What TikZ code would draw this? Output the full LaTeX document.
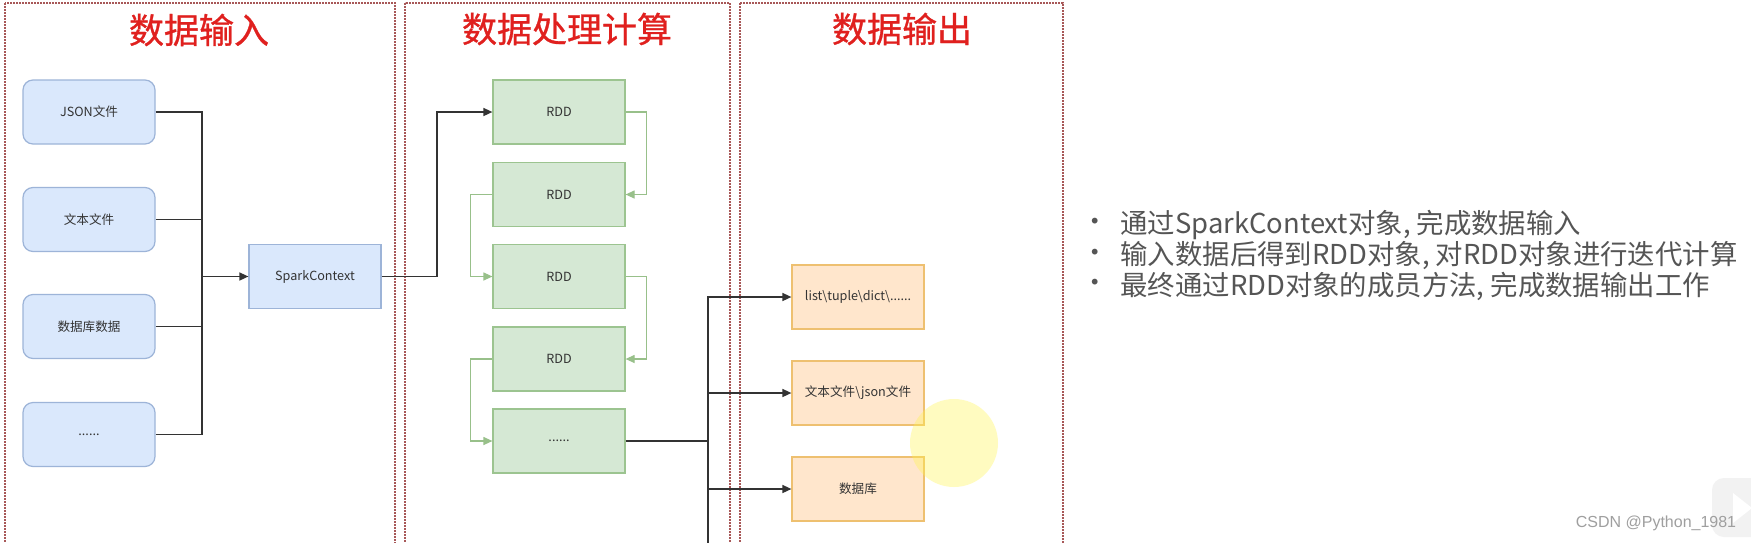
\documentclass[tikz,border=0pt]{standalone}
\usepackage{fontspec}
\setmainfont{Noto Sans CJK SC}
\newfontfamily\wmfont{Liberation Sans}
\newfontfamily\titlefont[FakeBold=0.9]{Noto Sans CJK SC}
\usetikzlibrary{arrows.meta,calc}
\definecolor{inFill}{HTML}{DAE8FC}
\definecolor{inDraw}{HTML}{9DB4D8}
\definecolor{rddFill}{HTML}{D5E8D4}
\definecolor{rddDraw}{HTML}{9CC490}
\definecolor{outFill}{HTML}{FFE6CC}
\definecolor{outDraw}{HTML}{EEC070}
\definecolor{panelCol}{HTML}{A85858}
\definecolor{titleRed}{HTML}{E0201E}
\definecolor{lineCol}{HTML}{333333}
\definecolor{greenLine}{HTML}{98C08A}
\definecolor{txtCol}{HTML}{333333}
\definecolor{bulletCol}{HTML}{555555}
\tikzset{
  panel/.style={draw=panelCol, line width=0.7pt, dash pattern=on 0.9pt off 0.6pt},
  boxbase/.style={minimum width=66pt, minimum height=32pt, inner sep=0pt, text=txtCol,
    font=\fontsize{6.3}{7}\selectfont, line width=0.6pt},
  inbox/.style={boxbase, fill=inFill, draw=inDraw, rounded corners=5pt},
  scbox/.style={boxbase, fill=inFill, draw=inDraw},
  rddbox/.style={boxbase, fill=rddFill, draw=rddDraw},
  outbox/.style={boxbase, fill=outFill, draw=outDraw},
  titletext/.style={text=titleRed, font=\titlefont\fontsize{17.5}{20}\selectfont, inner sep=0pt},
  bullettext/.style={text=bulletCol, font=\fontsize{13.7}{15}\selectfont, inner sep=0pt, anchor=west},
  conn/.style={draw=lineCol, line width=0.75pt},
  connarrow/.style={conn, -{Triangle[length=4.5pt,width=4pt]}},
  gconn/.style={draw=greenLine, line width=0.6pt, -{Triangle[length=4.5pt,width=4pt]}},
}
\begin{document}
\begin{tikzpicture}[x=0.5pt,y=-0.5pt]
\useasboundingbox (0,0) rectangle (1751,542);
\clip (0,0) rectangle (1751,542);
\fill[white] (0,0) rectangle (1751,542);

% panels
\draw[panel] (5,3) rectangle (395,620);
\draw[panel] (405,3) rectangle (730,620);
\draw[panel] (740,3) rectangle (1063,620);

% titles
\node[titletext] (t1) at (199,30) {数据输入};
\node[titletext] (t2) at (567,29) {数据处理计算};
\node[titletext] (t3) at (902,29) {数据输出};

% input boxes
\node[inbox] (in1) at (89,112) {JSON文件};
\node[inbox] (in2) at (89,219.5) {文本文件};
\node[inbox] (in3) at (89,326.5) {数据库数据};
\node[inbox] (in4) at (89,434.5) {......};

\node[scbox] (sc) at (315,276.5) {SparkContext};

% RDD boxes
\node[rddbox] (r1) at (559,112) {RDD};
\node[rddbox] (r2) at (559,194.5) {RDD};
\node[rddbox] (r3) at (559,276.5) {RDD};
\node[rddbox] (r4) at (559,359) {RDD};
\node[rddbox] (r5) at (559,441) {......};

% output boxes
\node[outbox] (o1) at (858,297) {list\textbackslash tuple\textbackslash dict\textbackslash ......};
\node[outbox] (o2) at (858,393) {文本文件\textbackslash json文件};
\node[outbox] (o3) at (858,489) {数据库};

% input bus
\coordinate (bin) at (202,276.5);
\draw[conn] (in1.east) -| (bin);
\draw[conn] (in2.east) -| (bin);
\draw[conn] (in3.east) -| (bin);
\draw[conn] (in4.east) -| (bin);
\draw[connarrow] (bin) -- (sc.west);

% spark -> rdd1
\coordinate (sj) at (437,276.5);
\draw[connarrow] (sc.east) -- (sj) |- (r1.west);

% rdd chain
\draw[gconn] (r1.east) -- ++(21,0) |- (r2.east);
\draw[gconn] (r2.west) -- ++(-22,0) |- (r3.west);
\draw[gconn] (r3.east) -- ++(21,0) |- (r4.east);
\draw[gconn] (r4.west) -- ++(-22,0) |- (r5.west);

% output bus
\coordinate (bout) at (708,441);
\coordinate (boutend) at (708,560);
\draw[conn] (r5.east) -- (bout);
\draw[connarrow] (bout) |- (o1.west);
\draw[connarrow] (bout) |- (o2.west);
\draw[connarrow] (bout) |- (o3.west);
\draw[conn] (bout) -- (boutend);

% cursor highlight
\fill[yellow!70!white, opacity=0.35] (954,443) circle (44);

% bullet text
\node[bullettext, anchor=center] (b1) at (1095,225) {•};
\node[bullettext] (l1) at (1120,225) {通过SparkContext对象, 完成数据输入};
\node[bullettext, anchor=center] (b2) at (1095,255.5) {•};
\node[bullettext] (l2) at (1120,255.5) {输入数据后得到RDD对象, 对RDD对象进行迭代计算};
\node[bullettext, anchor=center] (b3) at (1095,286) {•};
\node[bullettext] (l3) at (1120,286) {最终通过RDD对象的成员方法, 完成数据输出工作};

% faint player icon
\fill[gray!10, rounded corners=6pt] (1712,478) rectangle (1775,537);
\fill[white] (1733,493) -- (1733,523) -- (1752,508) -- cycle;

% watermark
\node[text=gray!75, font=\wmfont\fontsize{8}{9}\selectfont, inner sep=0pt] (wm) at (1656,523) {CSDN @Python\_1981};
\end{tikzpicture}
\end{document}
